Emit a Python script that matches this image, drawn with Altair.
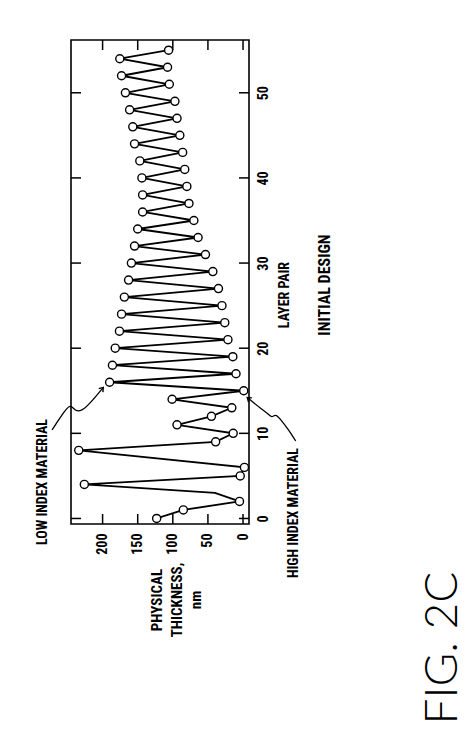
import altair as alt
import pandas as pd

# Layer index (layer pair axis) and physical thickness (nm)
layers = [0, 1, 2, 3, 4, 5, 6,
          8, 9, 10, 11, 12, 13, 14, 15, 16, 17, 18, 19, 20, 21, 22, 23, 24, 25,
          26, 27, 28, 29, 30, 31, 32, 33, 34, 35, 36, 37, 38, 39, 40, 41, 42, 43,
          44, 45, 46, 47, 48, 49, 50, 51, 52, 53, 54, 55]
thickness = [123, 85, 5, 40, 226, 4, -2,
             234, 39, 14, 94, 45, 16, 101, -1, 190, 10, 186, 14.5, 182, 21.5, 176, 26,
             173, 30, 169, 35, 163, 43, 159, 53.5, 154.5, 64, 150, 70, 143, 77, 143,
             80, 144, 83, 147, 86, 154.5, 90, 157, 94, 161.5, 97, 167.5, 105, 173,
             107.5, 175.5, 106]
has_marker = [True, True, True, False, True, True, True] + [True] * 48

thickness_ticks = [0, 50, 100, 150, 200]
layer_ticks = [0, 10, 20, 30, 40, 50]

# annotation arrow paths (thickness, layer)
low_arrow_t = [272, 256, 246, 239, 230, 218, 199]
low_arrow_l = [10.4, 12.4, 13.5, 12.6, 12.6, 13.5, 15.4]
high_arrow_t = [-75, -65, -53, -46, -41, -36, -27, -6]
high_arrow_l = [9.1, 10.4, 11.7, 12.3, 11.8, 12.3, 12.8, 14.2]

FONT = "Liberation Sans Narrow, Roboto Condensed, Arial Narrow, Liberation Sans, sans-serif"
W, H = 178, 484

df = pd.DataFrame({"layer": layers, "thickness": thickness, "marker": has_marker})
pts = df[df["marker"]]

xs = alt.Scale(domain=[-8.5, 245], reverse=True, nice=False, zero=False)
ys = alt.Scale(domain=[-0.65, 56.2], nice=False, zero=False)

xax = alt.Axis(values=thickness_ticks, ticks=False, domain=False, grid=False,
               labelAngle=270, labelAlign="right", labelBaseline="middle",
               labelPadding=9, labelFont=FONT, labelFontSize=14,
               labelFontWeight="bold", labelColor="black", title=None)
yax = alt.Axis(values=layer_ticks, orient="right", ticks=False, domain=False,
               grid=False, labelAngle=270, labelAlign="center",
               labelBaseline="top", labelPadding=7, labelFont=FONT,
               labelFontSize=14, labelFontWeight="bold", labelColor="black",
               title=None)

X = alt.X("thickness:Q", scale=xs, axis=xax)
Y = alt.Y("layer:Q", scale=ys, axis=yax)

line = alt.Chart(df).mark_line(color="black", strokeWidth=1.8).encode(
    x=X, y=Y, order="layer:Q")
circles = alt.Chart(pts).mark_point(shape="circle", size=65, filled=True,
                                     fill="white", stroke="black",
                                     strokeWidth=1.4, opacity=1).encode(x=X, y=Y)

tdf = pd.DataFrame({"thickness": thickness_ticks})
ldf = pd.DataFrame({"layer": layer_ticks})
tick_style = dict(color="black", strokeWidth=1.5)
bottom_ticks = alt.Chart(tdf).mark_rule(**tick_style).encode(
    x=X, y=alt.value(H - 10), y2=alt.value(H))
top_ticks = alt.Chart(tdf).mark_rule(**tick_style).encode(
    x=X, y=alt.value(0), y2=alt.value(10))
right_ticks = alt.Chart(ldf).mark_rule(**tick_style).encode(
    y=Y, x=alt.value(W - 10), x2=alt.value(W))
left_ticks = alt.Chart(ldf).mark_rule(**tick_style).encode(
    y=Y, x=alt.value(0), x2=alt.value(10))

# annotation arrows
adf_low = pd.DataFrame({"thickness": low_arrow_t, "layer": low_arrow_l,
                        "i": range(len(low_arrow_t))})
adf_high = pd.DataFrame({"thickness": high_arrow_t, "layer": high_arrow_l,
                         "i": range(len(high_arrow_t))})
arrow_low = alt.Chart(adf_low).mark_line(color="black", strokeWidth=1.3,
                                         interpolate="basis").encode(
    x=X, y=Y, order="i:Q")
arrow_high = alt.Chart(adf_high).mark_line(color="black", strokeWidth=1.3,
                                           interpolate="basis").encode(
    x=X, y=Y, order="i:Q")
chevron = "M -0.7 1 L 0 0 L 0.7 1"
head_low = alt.Chart(adf_low.tail(1)).mark_point(
    shape=chevron, size=60, filled=False, stroke="black", strokeWidth=1.4,
    angle=40, opacity=1).encode(x=X, y=Y)
head_high = alt.Chart(adf_high.tail(1)).mark_point(
    shape=chevron, size=60, filled=False, stroke="black", strokeWidth=1.4,
    angle=309, opacity=1).encode(x=X, y=Y)

one = pd.DataFrame({"a": [0]})

frame = alt.Chart(one).mark_rect(fill=None, stroke="black", strokeWidth=1.6).encode(
    x=alt.value(0), x2=alt.value(W), y=alt.value(0), y2=alt.value(H))


def label(text, px, py, size=14, font=FONT, weight="bold", line_height=None):
    kw = dict(angle=270, align="center", baseline="middle", font=font,
              fontSize=size, fontWeight=weight, color="black")
    if line_height:
        kw["lineHeight"] = line_height
    return alt.Chart(one).mark_text(**kw).encode(
        x=alt.value(px), y=alt.value(py), text=alt.value(text))


texts = [
    label(["PHYSICAL", "THICKNESS,", "nm"], 86, 560, size=15, line_height=19.5),
    label("LAYER PAIR", 214, 255, size=14),
    label("INITIAL DESIGN", 254, 245, size=16),
    label("LOW INDEX MATERIAL", -28, 442, size=14),
    label("HIGH INDEX MATERIAL", 223, 473, size=14),
    label("FIG. 2C", 372, 608, size=46, font="Lato, DejaVu Sans, sans-serif",
          weight=300),
]

chart = alt.layer(
    frame, line, circles, bottom_ticks, top_ticks, right_ticks, left_ticks,
    arrow_low, arrow_high, head_low, head_high, *texts
).properties(
    width=W, height=H,
    autosize=alt.AutoSizeParams(type="none"),
    padding={"left": 63, "top": 32, "right": 217, "bottom": 205},
    background="white",
).configure_view(
    stroke=None
)

chart.save("out.html", embed_options={"renderer": "svg", "actions": False})
